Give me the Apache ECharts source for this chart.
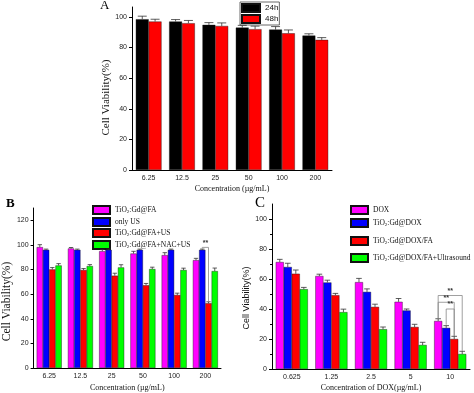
<!DOCTYPE html>
<html>
<head>
<meta charset="utf-8">
<script src="https://cdn.jsdelivr.net/npm/echarts@6.0.0/dist/echarts.min.js"></script>
<style>
html, body { margin: 0; padding: 0; background: #fff; }
#chart { width: 474px; height: 393px; }
</style>
</head>
<body>
<div id="chart"></div>
<script>
// panel A
var catsA = ['6.25', '12.5', '25', '50', '100', '200'];
var a24 = [98.5, 97, 94.8, 93, 91.7, 87.8];
var a24Err = [2, 1.3, 1.5, 1.5, 2, 1.2];
var a48 = [97, 95.9, 94.1, 92, 89.3, 85];
var a48Err = [1.5, 1.8, 2, 2, 2.2, 1.5];
var yTicksA = [0, 20, 40, 60, 80, 100];

// panel B
var catsB = ['6.25', '12.5', '25', '50', '100', '200'];
var bFA = [98.2, 97.1, 94.9, 93, 91.7, 87.6];
var bFAErr = [2, 0.8, 1.5, 1.8, 2, 1.5];
var bUS = [96, 96, 96, 96, 96, 96];
var bUSErr = [0.6, 0.6, 0.6, 0.6, 0.6, 0.6];
var bFAUS = [80.1, 79.6, 75, 67.2, 59.3, 52.6];
var bFAUSErr = [1.5, 1.2, 2, 1.5, 1.5, 1.2];
var bNAC = [83.3, 82.8, 81.7, 80.4, 79.6, 78.7];
var bNACErr = [1.5, 1.2, 2.2, 1.5, 1.5, 2.5];
var yTicksB = [0, 20, 40, 60, 80, 100, 120];
// [category, bar from, bar to, line value, from top, to top]
var sigB = [[5, 1, 2, 98, 97, 54]];

// panel C
var catsC = ['0.625', '1.25', '2.5', '5', '10'];
var cDOX = [71.3, 62, 57.9, 44.8, 32];
var cDOXErr = [1.8, 1.2, 2.5, 2.2, 1.5];
var cGd = [68, 57.7, 51.4, 39, 27.4];
var cGdErr = [2.5, 1.5, 2, 1, 1.5];
var cFA = [63.5, 49.2, 41.4, 28, 20];
var cFAErr = [2.5, 1.2, 1.8, 1.8, 1.8];
var cUS = [53.2, 37.9, 26.5, 16, 10];
var cUSErr = [1.2, 2, 1.5, 1.8, 1.8];
var yTicksC = [0, 20, 40, 60, 80, 100];
var sigC = [[4, 0, 3, 49, 34, 12], [4, 0, 2, 44.5, 34, 22], [4, 1, 2, 40, 29.5, 22]];

var serif = 'Liberation Serif';
var sans = 'Liberation Sans';

function barSeries(name, data, color, gi, gap) {
  return {
    type: 'bar', name: name, data: data,
    xAxisIndex: gi, yAxisIndex: gi,
    barGap: '0%', barCategoryGap: (gap * 100) + '%',
    itemStyle: { color: color, borderColor: '#111', borderWidth: 0.4 }
  };
}

function barX(api, cat, i, n, gap) {
  var band = api.size([1, 0])[0];
  var bw = band * (1 - gap) / n;
  var c = api.coord([cat, 0])[0];
  return { x: c - band * (1 - gap) / 2 + (i + 0.5) * bw, bw: bw };
}

function errSeries(vals, errs, gi, i, n, gap) {
  return {
    type: 'custom', xAxisIndex: gi, yAxisIndex: gi, z: 5, silent: true,
    data: vals.map(function (v, k) { return [k, v, errs[k]]; }),
    encode: { x: 0, y: 1 },
    renderItem: function (params, api) {
      var b = barX(api, api.value(0), i, n, gap);
      var y0 = api.coord([api.value(0), api.value(1)])[1];
      var y1 = api.coord([api.value(0), api.value(1) + api.value(2)])[1];
      var cap = b.bw * 0.35;
      var st = { stroke: '#333', lineWidth: 0.8 };
      return {
        type: 'group', children: [
          { type: 'line', shape: { x1: b.x, y1: y0, x2: b.x, y2: y1 }, style: st },
          { type: 'line', shape: { x1: b.x - cap, y1: y1, x2: b.x + cap, y2: y1 }, style: st }
        ]
      };
    }
  };
}

function sigSeries(items, gi, n, gap) {
  return {
    type: 'custom', xAxisIndex: gi, yAxisIndex: gi, z: 6, silent: true,
    data: items,
    encode: { x: 0, y: 3 },
    renderItem: function (params, api) {
      var cat = api.value(0);
      var xa = barX(api, cat, api.value(1), n, gap).x;
      var xb = barX(api, cat, api.value(2), n, gap).x;
      var yl = api.coord([cat, api.value(3)])[1];
      var ya = api.coord([cat, api.value(4)])[1];
      var yb = api.coord([cat, api.value(5)])[1];
      return {
        type: 'group', children: [
          { type: 'polyline', shape: { points: [[xa, ya], [xa, yl], [xb, yl], [xb, yb]] },
            style: { stroke: '#888', lineWidth: 0.8, fill: null } },
          { type: 'text', x: (xa + xb) / 2, y: yl - 1,
            style: { text: '**', fill: '#333', font: 'bold 7px ' + sans, align: 'center', verticalAlign: 'bottom' } }
        ]
      };
    }
  };
}

function xAxisOf(gi, cats, name, gap) {
  return {
    type: 'category', gridIndex: gi, data: cats,
    name: name, nameLocation: 'middle', nameGap: gap,
    nameTextStyle: { fontFamily: serif, fontSize: 8, color: '#111' },
    axisLine: { lineStyle: { color: '#000', width: 1 } },
    axisTick: { alignWithLabel: true, length: 3, lineStyle: { color: '#000' } },
    axisLabel: { fontFamily: sans, fontSize: 7, color: '#222', margin: 5 }
  };
}

function yAxisOf(gi, max, ticks, nameFont, nameSize, gap, shift, minor) {
  return {
    type: 'value', gridIndex: gi, min: 0, max: max, interval: 20,
    name: 'Cell Viability(%)', nameLocation: 'middle', nameGap: gap,
    nameTextStyle: { fontFamily: nameFont, fontSize: nameSize, color: '#111', padding: [0, shift, 0, 0] },
    splitLine: { show: false },
    axisLine: { show: true, lineStyle: { color: '#000', width: 1 } },
    axisTick: { show: true, length: 3, customValues: ticks, lineStyle: { color: '#000' } },
    minorTick: { show: !!minor, splitNumber: 2, length: 2, lineStyle: { color: '#000' } },
    axisLabel: { fontFamily: sans, fontSize: 7, color: '#222', margin: 5, customValues: ticks }
  };
}

var subRich = {
  s: { fontFamily: serif, fontSize: 5, color: '#111', verticalAlign: 'bottom', lineHeight: 8 }
};
function subFmt(name) { return name.replace('TiO2', 'TiO{s|2}'); }

// one legend per entry so rows can sit where the reference puts them
function legendAt(name, left, top, size) {
  return {
    data: [name], left: left, top: top, selectedMode: false, padding: 0,
    itemWidth: 17, itemHeight: 8, icon: 'rect', formatter: subFmt,
    textStyle: { fontFamily: serif, fontSize: size, color: '#111', lineHeight: 8, rich: subRich }
  };
}

var gapA = 0.23, gapB = 0.2, gapC = 0.19;

var chart = echarts.init(document.getElementById('chart'));
chart.setOption({
  animation: false,
  backgroundColor: '#fff',
  title: [
    { text: 'A', left: 100, top: -1, padding: 0, textStyle: { fontFamily: serif, fontSize: 13, fontWeight: 'normal', color: '#000' } },
    { text: 'B', left: 6, top: 197, padding: 0, textStyle: { fontFamily: serif, fontSize: 13, fontWeight: 'bold', color: '#000' } },
    { text: 'C', left: 255, top: 196, padding: 0, textStyle: { fontFamily: serif, fontSize: 15, fontWeight: 'normal', color: '#000' } }
  ],
  legend: [
    { data: ['24h', '48h'], left: 240, top: 2, orient: 'vertical', selectedMode: false,
      padding: [1, 1, 1, 1], itemGap: 1, itemWidth: 18, itemHeight: 8, icon: 'rect',
      borderColor: '#444', borderWidth: 0.8,
      textStyle: { fontFamily: sans, fontSize: 8, color: '#111' } },
    legendAt('TiO2:Gd@FA', 92, 205, 7.5),
    legendAt('only US', 92, 217, 7.5),
    legendAt('TiO2:Gd@FA+US', 92, 228, 7.5),
    legendAt('TiO2:Gd@FA+NAC+US', 92, 240, 7.5),
    legendAt('DOX', 350, 205, 7.5),
    legendAt('TiO2:Gd@DOX', 350, 218, 7.5),
    legendAt('TiO2:Gd@DOX/FA', 350, 236, 7.5),
    legendAt('TiO2:Gd@DOX/FA+Ultrasound', 350, 253, 7.5)
  ],
  grid: [
    { left: 132, top: 7, width: 200, height: 163 },
    { left: 24, top: 208, width: 197, height: 160 },
    { left: 272, top: 204, width: 198, height: 165 }
  ],
  xAxis: [
    xAxisOf(0, catsA, 'Concentration (\u00b5g/mL)', 15),
    xAxisOf(1, catsB, 'Concentration (\u00b5g/mL)', 16),
    xAxisOf(2, catsC, 'Concentration of DOX(\u00b5g/mL)', 14.5)
  ],
  yAxis: [
    yAxisOf(0, 106.5, yTicksA, serif, 11, 18, 18, false),
    yAxisOf(1, 130, yTicksB, serif, 11.5, 17, 27, false),
    yAxisOf(2, 110, yTicksC, sans, 9, 18, 23, true)
  ],
  series: [
    barSeries('24h', a24, '#000000', 0, gapA),
    barSeries('48h', a48, '#ff0000', 0, gapA),
    errSeries(a24, a24Err, 0, 0, 2, gapA),
    errSeries(a48, a48Err, 0, 1, 2, gapA),

    barSeries('TiO2:Gd@FA', bFA, '#ff00ff', 1, gapB),
    barSeries('only US', bUS, '#0000ff', 1, gapB),
    barSeries('TiO2:Gd@FA+US', bFAUS, '#ff0000', 1, gapB),
    barSeries('TiO2:Gd@FA+NAC+US', bNAC, '#00ff00', 1, gapB),
    errSeries(bFA, bFAErr, 1, 0, 4, gapB),
    errSeries(bUS, bUSErr, 1, 1, 4, gapB),
    errSeries(bFAUS, bFAUSErr, 1, 2, 4, gapB),
    errSeries(bNAC, bNACErr, 1, 3, 4, gapB),
    sigSeries(sigB, 1, 4, gapB),

    barSeries('DOX', cDOX, '#ff00ff', 2, gapC),
    barSeries('TiO2:Gd@DOX', cGd, '#0000ff', 2, gapC),
    barSeries('TiO2:Gd@DOX/FA', cFA, '#ff0000', 2, gapC),
    barSeries('TiO2:Gd@DOX/FA+Ultrasound', cUS, '#00ff00', 2, gapC),
    errSeries(cDOX, cDOXErr, 2, 0, 4, gapC),
    errSeries(cGd, cGdErr, 2, 1, 4, gapC),
    errSeries(cFA, cFAErr, 2, 2, 4, gapC),
    errSeries(cUS, cUSErr, 2, 3, 4, gapC),
    sigSeries(sigC, 2, 4, gapC)
  ]
});
</script>
</body>
</html>
